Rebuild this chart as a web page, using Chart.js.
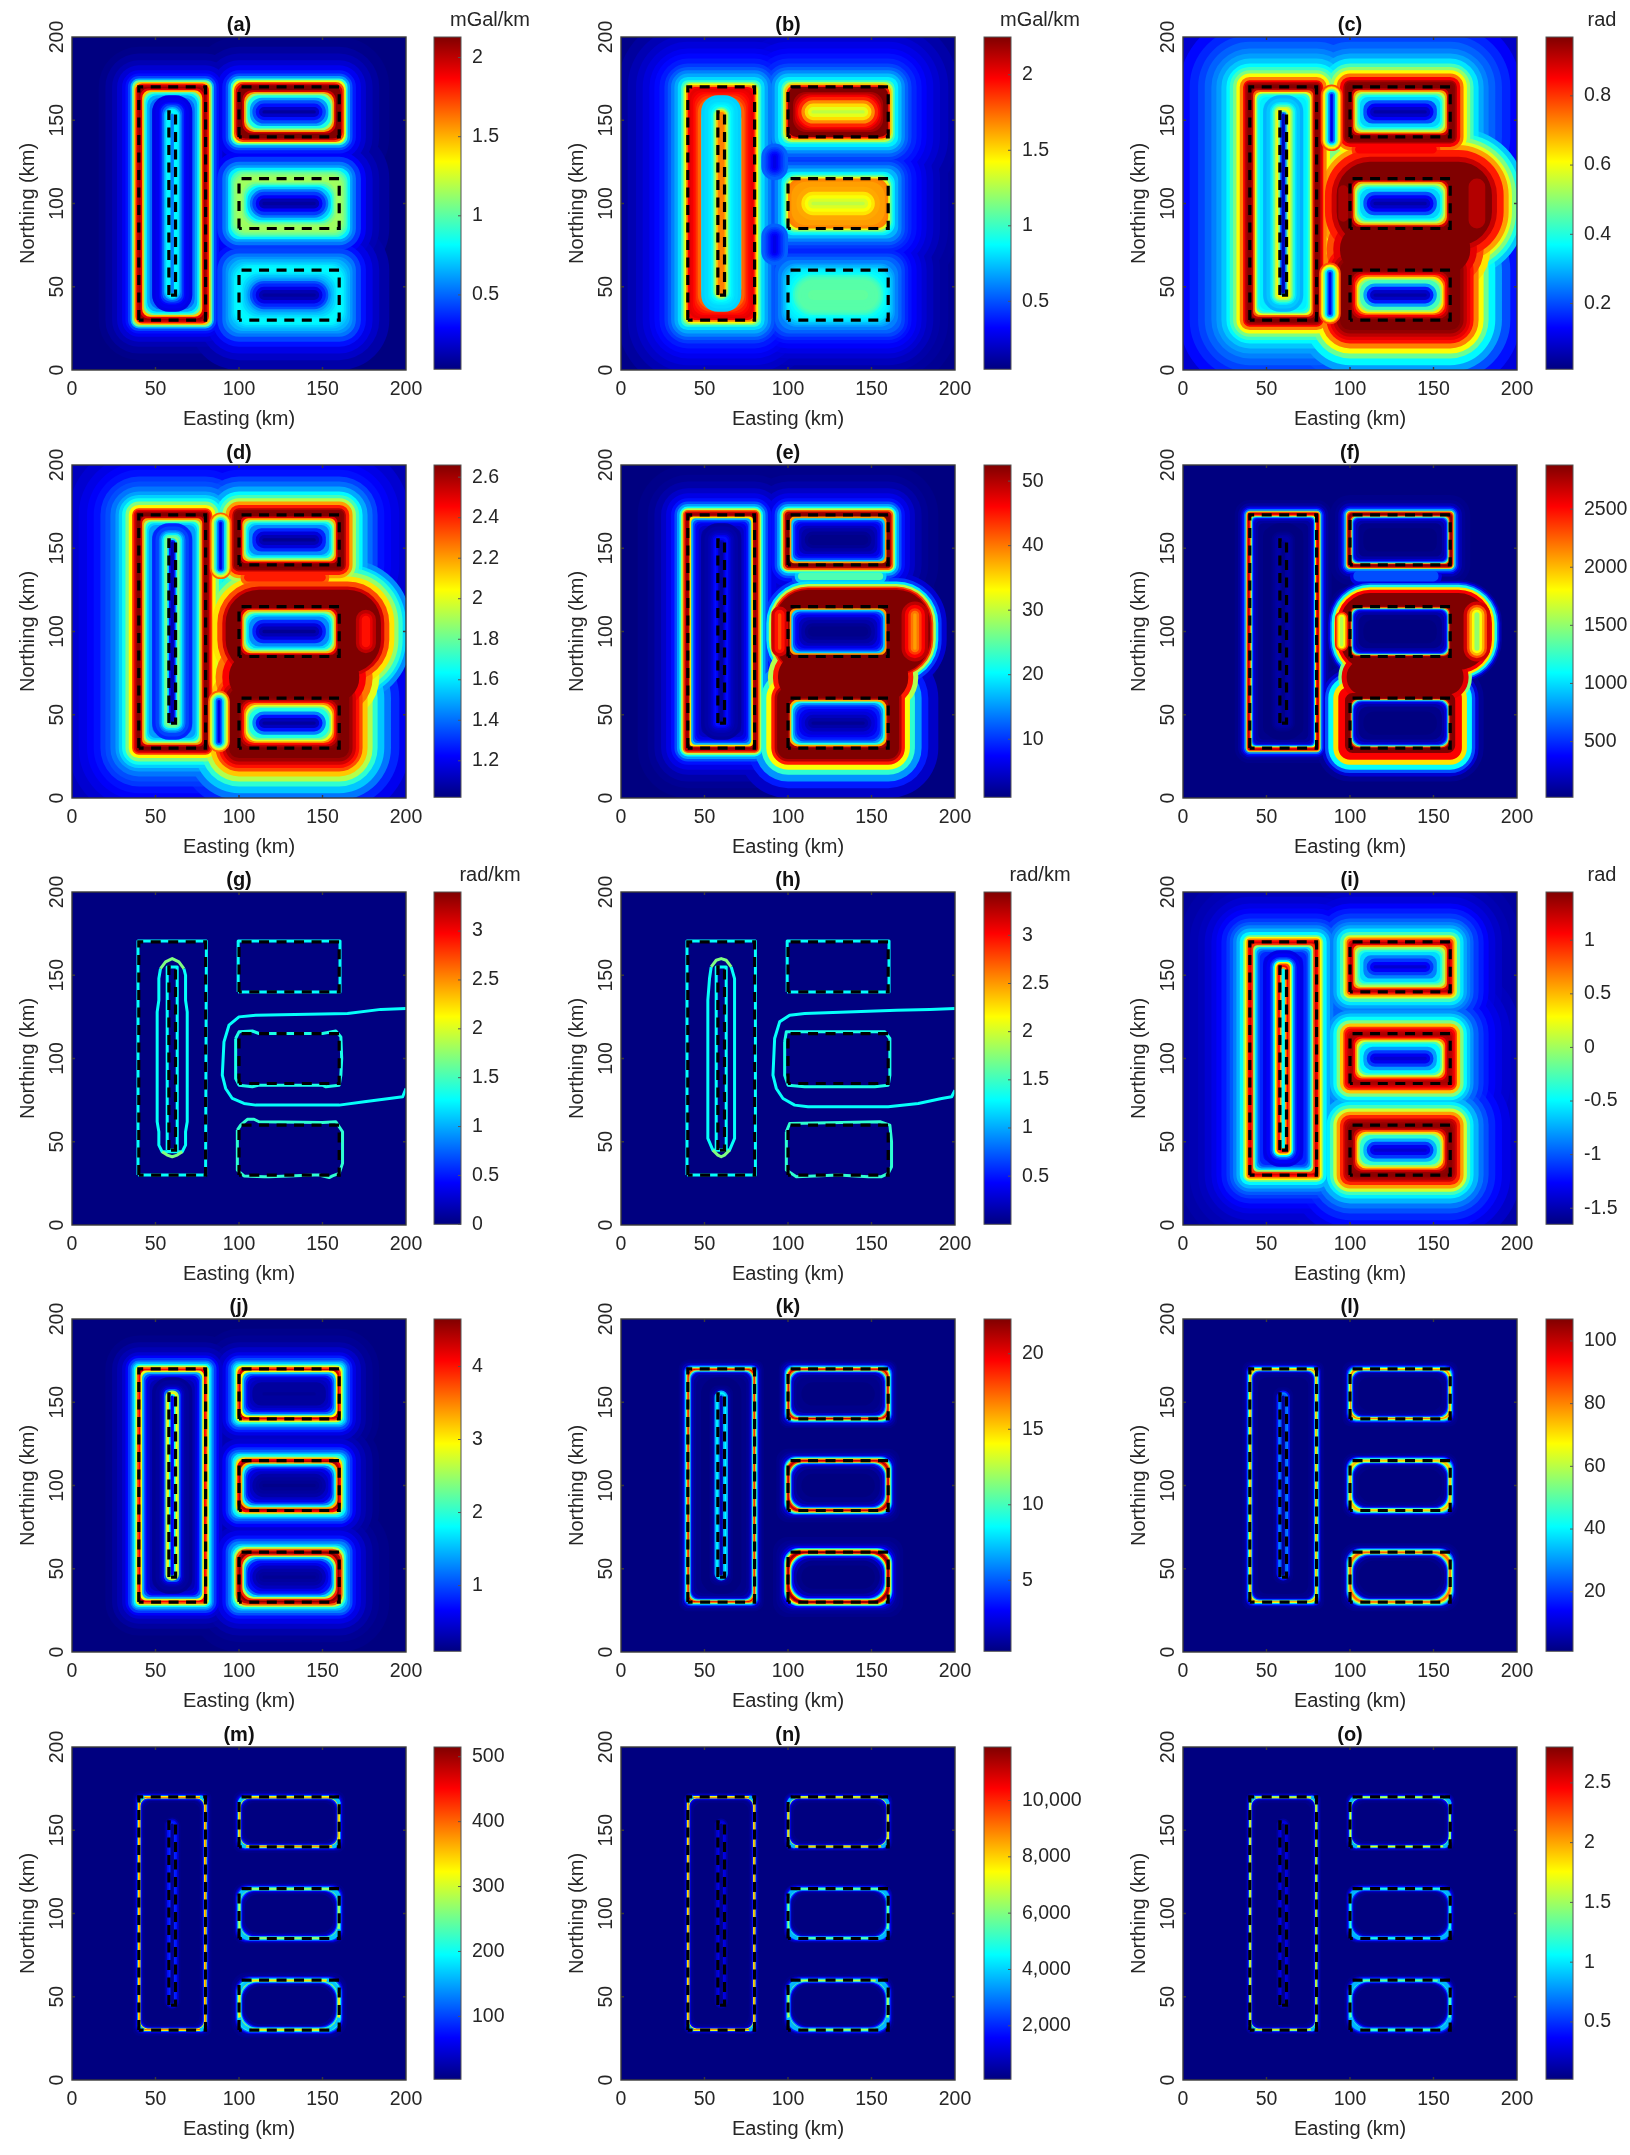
<!DOCTYPE html>
<html><head><meta charset="utf-8">
<style>html,body{margin:0;padding:0;background:#fff}canvas{position:absolute}</style>
<script src="https://cdn.jsdelivr.net/npm/chart.js@4"></script>
</head><body>
<script>
// ---- shared geometry of the modelled bodies (km): [xmin,xmax,ymin,ymax]
const body_A=[40,80,30,170], body_B=[58,62,45,155], body_C=[100,160,140,170], body_D=[100,160,85,115], body_E=[100,160,30,60];
const body_X=[112,165,95,105], body_Y=[108,158,72,73];
// ---- contour offsets from a body edge (km, + outward)
const OFF_W=[60,50,42,36,31,27,23,20,17,14,12,10,8,6,4,3,2,1,0,-1,-2,-3,-4,-5,-6,-8,-10,-12,-14];
const OFF_M=[30,24,20,16,13,10,8,6.5,5,4,3,2,1,0,-1,-2,-3,-4,-5,-6.5,-8,-10,-12,-14];
const OFF_N=[12,9,7,5.5,4.5,3.5,2.5,2,1.5,1,.5,0,-.5,-1,-1.5,-2,-2.5,-3.5,-5,-8];
const OFF_B=[10,8,6,5,4,3,2,1,0,-1];
// ---- colourbars
const cb_a=[0.03,2.13], cb_b=[0.05,2.25], cb_c=[0.01,0.97], cb_d=[1.02,2.66], cb_e=[1,52.5], cb_f=[20,2880], cb_g=[0,3.4], cb_h=[0,3.45], cb_i=[-1.65,1.45], cb_j=[0.1,4.65], cb_k=[0.3,22.3], cb_l=[1,107], cb_m=[3,515], cb_n=[100,11900], cb_o=[0.02,2.8];
const tk_a=[.5,1,1.5,2], tk_b=[.5,1,1.5,2], tk_c=[.2,.4,.6,.8], tk_d=[1.2,1.4,1.6,1.8,2,2.2,2.4,2.6], tk_e=[10,20,30,40,50], tk_f=[500,1000,1500,2000,2500], tk_g=[0,.5,1,1.5,2,2.5,3], tk_h=[.5,1,1.5,2,2.5,3], tk_i=[-1.5,-1,-.5,0,.5,1], tk_j=[1,2,3,4], tk_k=[5,10,15,20], tk_l=[20,40,60,80,100], tk_m=[100,200,300,400,500], tk_n=[2000,4000,6000,8000,10000], tk_o=[.5,1,1.5,2,2.5];
const titles=['(a)','(b)','(c)','(d)','(e)','(f)','(g)','(h)','(i)','(j)','(k)','(l)','(m)','(n)','(o)'];
const units=['mGal/km','mGal/km','rad','','','','rad/km','rad/km','rad','','','','','',''];
// ---- field levels, as % of each panel's colourbar range
const a_A=[0,1,3,5,8,11,14,19,30,48,68,85,95,98,90,68,46,36,29,23,18,14,10,8];
const a_C=[1,3,5,8,11,15,20,28,42,60,80,92,100,100,100,92,72,52,40,28,20,14,7,3];
const a_D=[3,5,8,12,18,24,28,36,43,47,50,52,53,53,53,50,45,38,32,24,18,12,5,3];
const a_E=[4,7,10,14,19,24,27,30,32,34,36,37,37,37,36,34,32,30,27,20,16,10,5,3];
const a_B=[10,11,13,17,23,30,36,37,37,25];
const b_A=[0,1,3,5,7,9,11,13,15,18,21,25,29,34,42,50,62,75,88,90,89,87,85,82,78,66,50,38,35];
const b_C=[0,2,4,6,8,10,12,14,16,19,22,26,31,36,44,55,68,85,100,100,100,96,92,88,84,74,66,60,56];
const b_D=[0,1,3,4,6,8,10,12,14,16,18,21,25,30,36,40,48,60,75,74,72,72,72,71,71,65,62,59,56];
const b_E=[0,1,2,3,4,6,8,10,12,14,16,19,22,25,28,30,32,35,36,37,39,42,44,45,46,46,46,47,47];
const b_B=[33,34,35,36,38,45,55,68,75,75];
const c_A=[3,8,13,16,19,22,25,28,32,37,43,50,62,75,88,94,98,100,100,94,78,60,44,38,36,34,32,30,28];
const c_C=[3,7,12,16,19,22,25,29,35,44,52,63,76,88,96,99,100,100,100,92,72,56,46,38,33,20,12,7,4];
const c_D=[3,7,12,16,19,22,25,29,35,44,52,63,76,88,96,99,100,100,100,92,72,56,46,38,33,20,12,7,4];
const c_E=[4,9,14,20,28,37,48,62,75,86,90,94,98,100,100,100,100,100,99,94,88,78,65,52,44,28,15,7,4];
const c_B=[30,32,35,40,47,56,63,50,25,6];
const d_A=[3,6,8,10,12,14,18,20,24,28,33,39,50,63,82,90,97,100,100,92,72,54,40,33,28,22,18,15,16];
const d_C=[2,5,8,10,12,14,19,23,29,37,44,55,72,85,95,99,100,100,100,90,70,52,40,33,26,16,9,5,2];
const d_D=[2,5,8,10,12,14,19,23,29,37,44,55,72,85,95,99,100,100,100,90,70,52,40,33,26,16,9,5,2];
const d_E=[3,7,11,16,24,32,42,55,68,80,86,92,97,100,100,100,100,100,99,94,86,74,60,48,40,25,14,6,3];
const d_B=[16,19,24,29,36,45,50,35,15,5];
const e_A=[1,2,4,7,10,14,20,28,38,55,78,92,98,95,65,30,20,14,10,7,4,3,2,2];
const e_C=[1,2,4,7,10,14,20,28,38,55,78,95,100,100,72,32,20,14,10,6,4,2,1,1];
const e_D=[1,2,4,7,10,14,20,28,38,55,78,95,100,100,72,32,20,14,10,6,4,2,1,1];
const e_E=[7,15,27,42,62,85,95,100,100,100,100,100,100,96,70,40,28,20,15,11,9,6,4,2];
const e_B=[3,4,5,6,8,11,14,12,6,3];
const f_A=[0,1,3,7,14,24,50,72,88,95,90,82,62,35,18,10,6,3,1,0];
const f_C=[1,2,5,10,18,28,55,78,92,100,100,95,75,45,25,14,8,4,1,0];
const f_D=[1,2,5,10,18,28,55,78,92,100,100,95,75,45,25,14,8,4,1,0];
const f_E=[1,2,5,10,18,28,55,78,92,100,100,95,75,45,25,14,8,4,1,0];
const f_B=[0,0,0,1,2,3,4,4,3,1];
const i_A=[2,3,4,5,6,8,10,12,15,18,21,25,30,37,50,62,75,88,92,82,52,35,26,20,16,12,9,7,10];
const i_C=[2,3,4,5,7,9,12,15,18,22,25,29,35,44,58,68,80,90,95,90,72,55,48,40,34,25,18,12,8];
const i_D=[2,4,6,8,10,12,15,18,22,27,32,38,50,68,82,88,92,95,96,95,88,74,58,45,37,28,18,11,8];
const i_E=[2,4,7,10,13,16,20,24,30,36,44,58,72,84,92,95,97,99,99,98,92,80,66,52,42,30,18,11,8];
const i_B=[10,12,17,24,38,62,80,88,72,38];
const j_A=[0,0,1,3,5,8,12,18,24,30,38,58,80,88,60,30,20,12,8,5,3,2,1,1];
const j_C=[0,1,2,4,7,10,15,20,26,32,40,60,82,92,62,32,22,14,8,6,3,3,3,2];
const j_D=[0,1,3,5,8,12,17,22,28,36,44,66,88,95,70,40,26,16,10,7,4,3,2,1];
const j_E=[1,2,4,7,10,14,20,25,31,40,55,78,94,99,84,55,34,22,14,10,6,4,3,2];
const j_B=[2,3,4,6,10,22,55,63,40,12];
const k_A=[0,0,0,1,2,5,14,24,36,52,75,90,72,42,22,10,5,2,1,0];
const k_C=[0,0,0,1,3,6,16,26,40,58,80,92,76,46,26,12,6,2,1,0];
const k_D=[0,0,1,2,4,8,22,36,52,72,90,95,82,55,32,16,8,3,1,0];
const k_E=[0,1,2,3,6,12,30,46,64,84,96,99,88,65,40,22,11,4,1,0];
const k_B=[0,0,0,1,2,5,30,37,30,5];
const l_A=[0,0,0,0,1,2,7,14,24,38,60,72,58,28,12,5,2,1,0,0];
const l_C=[0,0,0,0,1,2,8,15,26,40,62,75,60,30,14,6,2,1,0,0];
const l_D=[0,0,0,0,1,3,12,22,34,50,66,70,60,36,18,8,3,1,0,0];
const l_E=[0,0,0,1,2,5,18,30,44,60,74,78,68,44,22,10,4,1,0,0];
const l_B=[0,0,0,0,1,2,14,25,22,3];
const m_A=[0,0,0,0,0,1,3,6,12,26,64,78,62,16,7,3,1,0,0,0];
const m_C=[0,0,0,0,0,1,3,6,12,26,60,72,58,16,7,3,1,0,0,0];
const m_D=[0,0,0,0,0,1,5,10,18,32,50,55,48,26,12,5,2,0,0,0];
const m_E=[0,0,0,0,1,2,7,14,24,40,58,66,56,34,16,6,2,0,0,0];
const m_B=[0,0,0,0,0,1,6,14,16,2];
const n_A=[0,0,0,0,0,0,2,4,8,18,60,76,58,12,5,2,1,0,0,0];
const n_C=[0,0,0,0,0,0,2,4,8,16,56,68,54,12,5,2,1,0,0,0];
const n_D=[0,0,0,0,0,0,3,6,12,24,42,52,40,20,8,3,1,0,0,0];
const n_E=[0,0,0,0,0,1,4,8,16,30,48,56,46,26,11,4,1,0,0,0];
const n_B=[0,0,0,0,0,0,3,8,10,1];
const o_A=[0,0,0,0,0,0,2,4,8,18,50,66,50,12,5,2,1,0,0,0];
const o_C=[0,0,0,0,0,0,2,4,8,16,48,60,46,12,5,2,1,0,0,0];
const o_D=[0,0,0,0,0,0,3,6,12,22,36,44,34,18,8,3,1,0,0,0];
const o_E=[0,0,0,0,0,1,4,8,16,28,42,48,40,24,10,4,1,0,0,0];
const o_B=[0,0,0,0,0,0,3,8,10,1];
// ---- colour level of the ridge round the body corners, panels (m) (n) (o)
const m_corner=32, n_corner=30, o_corner=30;
// ---- extra ridges: [rect, offsets, levels]
const c_extra=[[body_X,[40,37,34.5,32,30,27,23,20],[32,40,50,60,72,85,93,100]],[body_Y,[26,22,18,14],[65,80,90,100]],[[105,150,132,133],[4,2],[82,88]]];
const d_extra=[[body_X,[38,35,33,30.5,28,25,22,20],[26,34,42,52,65,80,92,100]],[body_Y,[26,22,18,14],[60,76,88,100]],[[105,150,132,133],[4,2],[78,85]]];
const e_extra=[[body_X,[30,27,25,23.5,22,21,20],[8,18,35,55,80,92,100]],[body_Y,[20,17,14],[55,85,100]],[[108,155,133,133.5],[6,4,2],[20,32,45]]];
const f_extra=[[body_X,[26,25,24,23,21.5,20,18],[3,10,22,40,65,88,100]],[body_Y,[15,13,10],[50,90,100]],[body_E,[20,17,15,13,10,7,3],[2,8,20,38,65,88,100]],[[105,150,133,133.5],[5,3],[10,20]]];
// ---- local lows: [rect, offsets, levels]
const b_low=[[[92,92,122,128],[8,6,5,4,3,2,1],[22,20,18,16,14,12,10]],[[92,92,71,80],[8,6,5,4,3,2,1],[22,20,18,16,14,12,10]]];
const c_low=[[[176,176,90,110],[5],[95]],[[96,96,92,108],[3],[96]],[[88,88,34,58],[6.5,5.5,5,4,3,2,1,.5],[80,70,63,50,37,25,15,10]],[[89,89,138,165],[6.5,5.5,5,4,3,2,1,.5],[80,70,63,50,37,25,15,10]]];
const d_low=[[[176,176,93,107],[6,4,2.5],[94,90,86]],[[88,88,34,58],[6.5,5.5,5,4,3,2,1,.5],[78,66,58,46,34,22,14,9]],[[89,89,138,165],[6.5,5.5,5,4,3,2,1,.5],[78,66,58,46,34,22,14,9]]];
const e_low=[[[176,176,90,110],[8,6,4,2.5,1],[94,88,82,76,72]],[[95,95,90,110],[5,3,1],[92,86,80]]];
const f_low=[[[176,176,90,110],[8,6,4.5,3,1.5],[92,80,70,62,52]],[[95,95,92,108],[4,3,2,1],[85,72,62,55]]];
// ---- thin contour traces of panels (g) and (h): [x,y] km
const g_lineA=[[39.5,30],[39.5,170.5],[80.5,170.5],[80,30],[39.5,30]];
const g_lineC=[[99.5,140],[99.5,170.5],[160.5,170.5],[160.5,140],[99.5,140]];
const g_lineD=[[98,112],[100,116],[108,116.5],[112,115],[150,115],[158,116.5],[161,113],[161.5,100],[161,90],[160,84],[152,83],[150,84],[112,84],[108,83],[100,84],[98,88],[98,112]];
const g_lineE=[[99,57],[101,60],[105,63.5],[109,63.5],[112,62],[150,61.5],[158,62],[162,56],[162,45],[162,37],[160,31],[156,29.5],[154,28.5],[148,30],[145,30],[118,29],[115,29],[103,29.5],[99,33],[99,57]];
const g_lineB=[[57,45],[57,155],[63,155],[63,45],[57,45]];
const g_lineO=[[53,154],[52,148],[52,135],[51,128],[51,62],[52,56],[52,48],[54,44],[66,44],[68,48],[68,56],[69,62],[69,128],[68,135],[68,150],[67,154]];
const g_arcT=[[53,154],[56,158],[60,160],[64,158],[67,154]];
const g_arcB=[[54,44],[57,42],[60,41],[63,42],[66,44]];
const g_lineBig=[[200,130],[185,129.5],[165,127],[110,126],[100,125],[94,120],[91,110],[90,90],[92,82],[96,76],[103,73],[110,72],[160,72],[175,74],[190,76],[198,77],[200,82]];
const h_lineA=[[39.5,30],[39.5,170.5],[80.5,170.5],[80.5,30],[39.5,30]];
const h_lineC=[[99.5,140],[99.5,170.5],[160.5,170.5],[160.5,140],[99.5,140]];
const h_lineD=[[98,110],[99,116],[150,116],[158,116],[161,112],[161,90],[160,84],[152,83],[110,83],[100,84],[98,90],[98,110]];
const h_lineE=[[99,56],[101,61],[155,62],[161,60],[162,50],[162,35],[160,31],[156,29],[148,29],[130,30],[105,29],[99,33],[99,56]];
const h_lineB=[[57,45],[57,155],[63,155],[63,45],[57,45]];
const h_lineO=[[54,155],[53,148],[52,135],[52,60],[52,52],[55,45],[65,45],[68,52],[68,60],[68,135],[68,148],[66,155]];
const h_arcT=[[54,155],[57,159],[60,160],[63,159],[66,155]];
const h_arcB=[[55,45],[58,42],[60,41],[62,42],[65,45]];
const h_lineBig=[[200,130],[185,129.5],[165,129],[110,127],[101,126],[95,122],[92,112],[91,90],[93,82],[97,76],[104,72],[112,71],[160,71],[178,73],[192,76],[198,77],[200,81]];
const g_thin=[[g_lineA,38],[g_lineC,38],[g_lineD,40],[g_lineE,42],[g_lineB,38],[g_lineO,38],[g_arcT,50],[g_arcB,50],[g_lineBig,38]];
const h_thin=[[h_lineA,38],[h_lineC,38],[h_lineD,40],[h_lineE,42],[h_lineB,38],[h_lineO,38],[h_arcT,50],[h_arcB,50],[h_lineBig,38]];

// ---- page layout (px)
const colLeft=[71.5,621,1183], rowTop=[37,464.5,892,1319,1747];
const barLeft=[434,984,1546];
const PW=334, PH=333, BW=27, KM=PW/200;
const FONT='"Liberation Sans",Arial,sans-serif', INK='#262626';
const corner=new Map([[body_A,4],[body_C,5],[body_D,7],[body_E,9]]);
// corner roundness of the contours in each panel (a..o): scale of the corner radius, growth inward
const cornerScale=[1,1,.6,.6,.5,.5,1,1,.5,.7,1,1,1,1,1];
const cornerGrow=[.35,.9,.3,.3,.25,.25,0,0,.25,.25,.25,.25,.25,.25,.25];
let panelScale=1,panelGrow=.3;

function jet(p){
  const t=Math.max(0,Math.min(1,p/100));
  const f=(a)=>Math.round(255*Math.max(0,Math.min(1,a)));
  const r=t<.375?0:t<.625?(t-.375)/.25:t<.875?1:1-(t-.875)/.25;
  const g=t<.125?0:t<.375?(t-.125)/.25:t<.625?1:t<.875?1-(t-.625)/.25:0;
  const b=t<.125?.5+t/.25:t<.375?1:t<.625?1-(t-.375)/.25:0;
  return `rgb(${f(r)},${f(g)},${f(b)})`;
}
function contour(rect,off,pct){
  const [x0,x1,y0,y1]=rect,R=(corner.has(rect)?corner.get(rect):5)*panelScale;
  const hm=Math.min((x1-x0)/2,(y1-y0)/2);
  const want=off<0?R-panelGrow*off:Math.max(off,R);
  const r=Math.min(want,hm+off);
  if(r<=0.05) return null;
  const ins=r-off, c=jet(pct);
  const a=Math.min(x0+ins,(x0+x1)/2), b=Math.max(x1-ins,(x0+x1)/2), d=Math.min(y0+ins,(y0+y1)/2), e=Math.max(y1-ins,(y0+y1)/2);
  return {pct,data:[{x:a,y:d},{x:a,y:e},{x:b,y:e},{x:b,y:d},{x:a,y:d}],showLine:true,clip:0,pointRadius:0,fill:'shape',
    borderColor:c,backgroundColor:c,borderWidth:2*r*KM,borderJoinStyle:'round',borderCapStyle:'round',borderDash:[100000,1]};
}
function layers(rect,offs,vals){
  const peak=vals.indexOf(Math.max(...vals)), up=[], down=[];
  offs.forEach((o,i)=>{const s=contour(rect,o,vals[i]); if(s)(i<=peak?up:down).push(s);});
  return {up,down};
}
function fieldDatasets(offs,prof,extra,low){
  const bodies=[[body_A,prof[0]],[body_C,prof[1]],[body_D,prof[2]],[body_E,prof[3]]];
  let up=[],down=[];
  bodies.forEach(([rect,v])=>{const l=layers(rect,offs,v);up=up.concat(l.up);down=down.concat(l.down);});
  (extra||[]).forEach(([rect,o,v])=>{up=up.concat(layers(rect,o,v).up);});
  up=up.map((s,i)=>[s,i]).sort((p,q)=>p[0].pct-q[0].pct||p[1]-q[1]).map(p=>p[0]);
  const lowDs=[]; (low||[]).forEach(([rect,o,v])=>o.forEach((q,i)=>{const s=contour(rect,q,v[i]);if(s)lowDs.push(s);}));
  const b=layers(body_B,OFF_B,prof[4]);
  return up.concat(lowDs,down,b.up,b.down);
}
function thinDatasets(list){
  return list.map(([pts,pct])=>({data:pts.map(([x,y])=>({x,y})),showLine:true,clip:0,pointRadius:0,fill:false,borderColor:jet(pct),borderWidth:3,borderJoinStyle:'round',borderDash:[100000,1]}));
}
function cornerDatasets(pct){
  const out=[];
  [body_A,body_C,body_D,body_E].forEach(rect=>{
    const [x0,x1,y0,y1]=rect,R=corner.get(rect);
    [[x0+R,y0+R,180],[x0+R,y1-R,90],[x1-R,y1-R,0],[x1-R,y0+R,270]].forEach(([cx,cy,st])=>{
      const pts=[10,30,50,70,80].map(a=>{const t=(st+a)*Math.PI/180;return {x:cx+R*Math.cos(t),y:cy+R*Math.sin(t)};});
      out.push({data:pts,showLine:true,clip:0,pointRadius:0,fill:false,borderColor:jet(pct),borderWidth:3.4,borderCapStyle:'butt',borderJoinStyle:'round',borderDash:[100000,1]});
    });
  });
  return out;
}
function dashDatasets(){
  return [body_A,body_B,body_C,body_D,body_E].map(([x0,x1,y0,y1])=>({
    data:[{x:x0,y:y0},{x:x0,y:y1},{x:x1,y:y1},{x:x1,y:y0},{x:x0,y:y0}],showLine:true,clip:0,pointRadius:0,fill:false,
    borderColor:'#000',borderWidth:3.2,borderDash:[10,7.5],borderJoinStyle:'miter'}));
}
const boxPlugin={id:'box',
  beforeDatasetsDraw(ch){const a=ch.chartArea,c=ch.ctx;c.save();c.fillStyle=jet(0);c.fillRect(a.left,a.top,a.width,a.height);c.restore();},
  afterDraw(ch){const a=ch.chartArea,c=ch.ctx,x=ch.scales.x,y=ch.scales.y;c.save();c.strokeStyle='#3a3a3a';c.lineWidth=1.4;
    c.strokeRect(a.left,a.top,a.width,a.height);c.beginPath();
    [50,100,150].forEach(v=>{const px=x.getPixelForValue(v),py=y.getPixelForValue(v);
      c.moveTo(px,a.bottom);c.lineTo(px,a.bottom-3);c.moveTo(px,a.top);c.lineTo(px,a.top+3);
      c.moveTo(a.left,py);c.lineTo(a.left+3,py);c.moveTo(a.right,py);c.lineTo(a.right-3,py);});
    c.stroke();c.restore();}};
const M_L=70,M_T=30,M_R=26,M_B=65;
function makeCanvas(l,t,w,h){const cv=document.createElement('canvas');cv.width=w;cv.height=h;cv.style.left=l+'px';cv.style.top=t+'px';cv.style.width=w+'px';cv.style.height=h+'px';document.body.appendChild(cv);return cv;}
function plotPanel(i,datasets){
  const col=i%3,row=Math.floor(i/3);
  const cv=makeCanvas(colLeft[col]-M_L,rowTop[row]-M_T,PW+M_L+M_R,PH+M_T+M_B);
  const tick={font:{family:FONT,size:19.5},color:INK};
  new Chart(cv,{type:'scatter',data:{datasets:datasets.slice().reverse()},plugins:[boxPlugin],options:{
    responsive:false,animation:false,events:[],layout:{padding:{left:0,right:M_R,top:0,bottom:0}},
    plugins:{legend:{display:false},tooltip:{enabled:false},
      title:{display:true,text:titles[i],fullSize:false,color:'#111',font:{family:FONT,size:20,weight:'bold',lineHeight:1},padding:{top:8,bottom:2}}},
    scales:{
      x:{type:'linear',min:0,max:200,afterFit:s=>{s.height=M_B;},grid:{display:false},border:{display:false},
        ticks:{...tick,stepSize:50,autoSkip:false,maxRotation:0,padding:0},
        title:{display:true,text:'Easting (km)',color:INK,font:{family:FONT,size:20},padding:{top:0,bottom:3.6}}},
      y:{type:'linear',min:0,max:200,afterFit:s=>{s.width=M_L;},grid:{display:false},border:{display:false},
        ticks:{...tick,stepSize:50,autoSkip:false,minRotation:90,maxRotation:90,crossAlign:'center',padding:-10},
        title:{display:true,text:'Northing (km)',color:INK,font:{family:FONT,size:20},padding:{top:14,bottom:0}}}
    }}});
}
function barPanel(i,range,ticks){
  const col=i%3,row=Math.floor(i/3),ML=85,MR=85;
  const cv=makeCanvas(barLeft[col]-ML,rowTop[row]-M_T,ML+BW+MR,PH+M_T+14);
  const labels=new Map(ticks.map(v=>[v,v>=2000&&i===13?v.toLocaleString('en-US'):String(v)]));
  new Chart(cv,{type:'bar',
    data:{labels:[''],datasets:[{data:[range],barPercentage:1,categoryPercentage:1,borderWidth:0,
      backgroundColor:(ctx)=>{const a=ctx.chart.chartArea;if(!a)return jet(0);
        const g=ctx.chart.ctx.createLinearGradient(0,a.bottom,0,a.top);
        [0,12.5,37.5,62.5,87.5,100].forEach(p=>g.addColorStop(p/100,jet(p)));return g;}}]},
    plugins:[{id:'cbTicks',afterDraw(ch){const a=ch.chartArea,c=ch.ctx,y=ch.scales.y;c.save();c.strokeStyle='#555';c.lineWidth=1;c.strokeRect(a.left,a.top,a.width,a.height);c.beginPath();
      ticks.forEach(v=>{const p=y.getPixelForValue(v);c.moveTo(a.right,p);c.lineTo(a.right-3,p);});c.stroke();c.restore();}}],
    options:{responsive:false,animation:false,events:[],layout:{padding:{left:ML,right:0,top:units[i]?0:M_T,bottom:9}},
      plugins:{legend:{display:false},tooltip:{enabled:false},
        title:{display:!!units[i],text:units[i],fullSize:true,color:INK,font:{family:FONT,size:20,weight:'normal',lineHeight:1.2},padding:{top:1,bottom:5}}},
      scales:{x:{display:false},
        y:{position:'right',min:range[0],max:range[1],afterFit:s=>{s.width=MR;},grid:{display:false},border:{display:false},
          afterBuildTicks:s=>{s.ticks=ticks.map(v=>({value:v}));},
          ticks:{autoSkip:false,font:{family:FONT,size:19.5},color:INK,padding:3,callback:(v)=>labels.get(v)}}}
    }});
}
const PANELS=[
 [OFF_M,[a_A,a_C,a_D,a_E,a_B],null,null,cb_a,tk_a,null],
 [OFF_W,[b_A,b_C,b_D,b_E,b_B],null,b_low,cb_b,tk_b,null],
 [OFF_W,[c_A,c_C,c_D,c_E,c_B],c_extra,c_low,cb_c,tk_c,null],
 [OFF_W,[d_A,d_C,d_D,d_E,d_B],d_extra,d_low,cb_d,tk_d,null],
 [OFF_M,[e_A,e_C,e_D,e_E,e_B],e_extra,e_low,cb_e,tk_e,null],
 [OFF_N,[f_A,f_C,f_D,f_E,f_B],f_extra,f_low,cb_f,tk_f,null],
 [null,g_thin,null,null,cb_g,tk_g,null],
 [null,h_thin,null,null,cb_h,tk_h,null],
 [OFF_W,[i_A,i_C,i_D,i_E,i_B],null,null,cb_i,tk_i,null],
 [OFF_M,[j_A,j_C,j_D,j_E,j_B],null,null,cb_j,tk_j,null],
 [OFF_N,[k_A,k_C,k_D,k_E,k_B],null,null,cb_k,tk_k,null],
 [OFF_N,[l_A,l_C,l_D,l_E,l_B],null,null,cb_l,tk_l,null],
 [OFF_N,[m_A,m_C,m_D,m_E,m_B],null,null,cb_m,tk_m,m_corner],
 [OFF_N,[n_A,n_C,n_D,n_E,n_B],null,null,cb_n,tk_n,n_corner],
 [OFF_N,[o_A,o_C,o_D,o_E,o_B],null,null,cb_o,tk_o,o_corner]
];
PANELS.forEach(([offs,prof,extra,low,range,ticks,cornerPct],i)=>{
  panelScale=cornerScale[i]; panelGrow=cornerGrow[i];
  let ds=offs?fieldDatasets(offs,prof,extra,low):thinDatasets(prof);
  if(cornerPct!==null) ds=ds.concat(cornerDatasets(cornerPct));
  ds=ds.concat(dashDatasets());
  plotPanel(i,ds);
  barPanel(i,range,ticks);
});
</script>
</body></html>
